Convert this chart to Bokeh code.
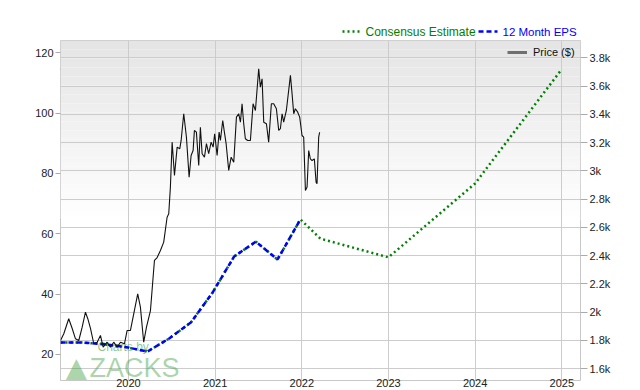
from bokeh.plotting import figure
from bokeh.layouts import column
from bokeh.models import (Range1d, LinearAxis, FixedTicker, Grid, Legend, LegendItem,
                          PolyAnnotation, Label)
from bokeh.embed import file_html
from bokeh.resources import INLINE
import numpy as np

# ---------------- data ----------------
price_t = [2019.216, 2019.254, 2019.311, 2019.351, 2019.389, 2019.427, 2019.466, 2019.504, 2019.531, 2019.562,
           2019.600, 2019.639, 2019.677, 2019.708, 2019.754, 2019.792, 2019.830, 2019.870, 2019.908, 2019.954,
           2019.985, 2020.023, 2020.061, 2020.107, 2020.138, 2020.176, 2020.208, 2020.254, 2020.277, 2020.300,
           2020.331, 2020.369, 2020.407, 2020.446, 2020.465, 2020.484, 2020.504, 2020.531, 2020.562, 2020.592,
           2020.608, 2020.638, 2020.669, 2020.700, 2020.723, 2020.746, 2020.761, 2020.784, 2020.811, 2020.830,
           2020.850, 2020.877, 2020.900, 2020.926, 2020.954, 2020.977, 2020.995, 2021.023, 2021.046, 2021.061,
           2021.088, 2021.107, 2021.127, 2021.157, 2021.185, 2021.215, 2021.246, 2021.272, 2021.292, 2021.311,
           2021.330, 2021.349, 2021.376, 2021.407, 2021.438, 2021.465, 2021.503, 2021.522, 2021.542, 2021.561,
           2021.592, 2021.618, 2021.649, 2021.676, 2021.707, 2021.734, 2021.753, 2021.773, 2021.791, 2021.822,
           2021.842, 2021.869, 2021.888, 2021.907, 2021.926, 2021.953, 2021.976, 2022.003, 2022.022, 2022.042,
           2022.061, 2022.080, 2022.099, 2022.119, 2022.145, 2022.165, 2022.176, 2022.195, 2022.206]
price_v = [1800, 1848, 1954, 1885, 1812, 1800, 1894, 2000, 1954, 1885,
           1777, 1788, 1836, 1753, 1788, 1753, 1788, 1753, 1788, 1777,
           1871, 1871, 1989, 2130, 2036, 1788, 1894, 2012, 2189, 2366,
           2387, 2437, 2496, 2672, 2696, 2885, 3203, 2967, 3168, 3156,
           3215, 3404, 3238, 2955, 3109, 3144, 3286, 3274, 3038, 3309,
           3121, 3097, 3192, 3121, 3203, 3168, 3262, 3109, 3274, 3215,
           3356, 3274, 3192, 3003, 3097, 3061, 3380, 3404, 3344, 3475,
           3333, 3227, 3215, 3215, 3475, 3427, 3722, 3592, 3651, 3344,
           3333, 3203, 3475, 3475, 3439, 3286, 3298, 3404, 3344, 3427,
           3533, 3675, 3545, 3404, 3439, 3415, 3380, 3250, 3238, 2861,
           2885, 3144, 3085, 3073, 3085, 2920, 2909, 3238, 3273]

eps_t = [2019.216, 2019.45, 2019.72, 2019.97, 2020.22, 2020.47, 2020.72, 2020.97, 2021.22, 2021.47, 2021.72, 2021.984]
eps_v = [24.0, 24.0, 23.4, 22.45, 21.0, 25.3, 30.6, 40.5, 52.5, 57.4, 51.5, 64.78]

est_t = eps_t + [2022.215, 2023.0, 2024.0, 2025.0]
est_v = eps_v + [58.4, 52.2, 76.7, 114.57]

year_ticks = [2020, 2021, 2022, 2023, 2024, 2025]
eps_ticks = [20, 40, 60, 80, 100, 120]
price_ticks = [1600, 1800, 2000, 2200, 2400, 2600, 2800, 3000, 3200, 3400, 3600, 3800]
price_labels = ["1.6k", "1.8k", "2k", "2.2k", "2.4k", "2.6k", "2.8k", "3k", "3.2k", "3.4k", "3.6k", "3.8k"]

legend_names = ["Consensus Estimate", "12 Month EPS"]

# ---------------- layout constants ----------------
W = 640
TOP_H = 40
H = 350
FL, FR, FT, FB = 60, 60, 0, 10
FRAME_W = W - FL - FR
FRAME_H = H - FT - FB
FONT = "Liberation Sans"
GREEN = "#008000"
BLUE = "#0000ff"

# ---------------- top strip with the outside legend ----------------
# (its frame is aligned with the main chart frame, so map canvas pixels FL..W-FR)
top = figure(width=W, height=TOP_H, x_range=Range1d(FL, W - FR), y_range=Range1d(TOP_H, 0),
             output_backend="svg", toolbar_location=None, title=None,
             x_axis_location=None, y_axis_location=None, min_border=0,
             min_border_left=FL, min_border_right=FR)
top.grid.visible = False
top.outline_line_color = None
top.background_fill_color = "white"
top.border_fill_color = "white"
for (x0, x1), color, dash, text, size in [((342, 360), GREEN, "2 3", legend_names[0], "12px"),
                                          ((478, 497), BLUE, "5 3", legend_names[1], "11.5px")]:
    top.line([x0, x1], [31, 31], line_color=color, line_width=2.5, line_dash=dash)
    top.add_layout(Label(x=x1 + 5, y=31, x_units="canvas", y_units="data", text=text,
                         text_baseline="middle", text_align="left", text_color=color,
                         text_font=FONT, text_font_size=size))

# ---------------- main chart ----------------
xr = Range1d(2019.216, 2025.216)
yr = Range1d(11.38, 124.08)
pr = Range1d(1517, 3922)

p = figure(width=W, height=H, x_range=xr, y_range=yr, output_backend="svg",
           toolbar_location=None, title=None, min_border_left=FL, min_border_right=FR,
           min_border_top=FT, min_border_bottom=FB)
p.extra_y_ranges = {"price": pr}
p.background_fill_color = "white"
p.border_fill_color = "white"
p.outline_line_color = "#c8c8c8"


def px2u(px, rng, size=FRAME_H):
    return px * (rng.end - rng.start) / size


# gradient background (top gray fading to white)
n = 40
fade_px = 180
edges = pr.end - (pr.end - pr.start) * np.linspace(0, fade_px / FRAME_H, n + 1)
shades = np.linspace(229, 255, n).astype(int)
cols = ["#%02x%02x%02x" % (s, s, s) for s in shades]
bands = p.quad(left=xr.start, right=xr.end, top=edges[:-1], bottom=edges[1:],
               fill_color=cols, line_color=None, y_range_name="price")
bands.level = "image"

# grids
p.xgrid.ticker = FixedTicker(ticks=year_ticks)
p.xgrid.grid_line_color = "#cccccc"
p.ygrid.visible = False
g = Grid(dimension=1, ticker=FixedTicker(ticks=price_ticks), y_range_name="price",
         grid_line_color="#cccccc")
p.add_layout(g)

# axes
def style_axis(ax, tick_out):
    ax.axis_line_color = None
    ax.major_tick_in = 0
    ax.major_tick_out = tick_out
    ax.minor_tick_line_color = None
    ax.major_tick_line_color = "#aaaaaa"
    ax.major_label_text_font = FONT
    ax.major_label_text_font_size = "11px"
    ax.major_label_text_color = "#222222"

p.yaxis.ticker = FixedTicker(ticks=eps_ticks)
style_axis(p.yaxis[0], 5)
p.yaxis.major_label_standoff = 2

p.xaxis.ticker = FixedTicker(ticks=year_ticks)
style_axis(p.xaxis[0], 0)
p.xaxis.major_label_standoff = -2

ra = LinearAxis(y_range_name="price", ticker=FixedTicker(ticks=price_ticks),
                major_label_overrides={t: l for t, l in zip(price_ticks, price_labels)})
style_axis(ra, 7)
ra.major_label_standoff = 2
p.add_layout(ra, "right")

# watermark
for txt, x, y, size, alpha in [("\u25b2", -2, -7, "36px", 0.45), ("ZACKS", 29, -2, "27px", 0.45),
                               ("Charts by", 37, 27, "12px", 0.6)]:
    lab = Label(x=x, y=y, x_units="screen", y_units="screen", text=txt, text_font=FONT,
                text_font_size=size, text_color="#3f9f3f", text_alpha=alpha)
    lab.level = "underlay"
    p.add_layout(lab)

# lines
est = p.line(est_t, est_v, line_color=GREEN, line_width=2.5, line_dash="2 3")
eps = p.line(eps_t, eps_v, line_color=BLUE, line_width=2.5, line_dash="5 3")
price = p.line(price_t, price_v, line_color="#111111", line_width=1.1, y_range_name="price")
price_key = p.line(price_t, price_v, line_color="#707070", line_width=3,
                   y_range_name="price", visible=False)

# legend inside the plot (Price)
lg = Legend(items=[LegendItem(label="Price ($)", renderers=[price_key])], location=(447, 322),
            label_text_font=FONT, label_text_font_size="11px", label_text_color="#111111",
            glyph_width=20, glyph_height=12, label_height=12, label_standoff=6,
            padding=0, margin=0, spacing=0, border_line_color=None, background_fill_alpha=0)
p.add_layout(lg)

# value flags
v = est_v[-1]
h = px2u(8.5, yr)
p.add_layout(PolyAnnotation(xs=[12, 53, 60, 53, 12], ys=[v + h, v + h, v, v - h, v - h],
                            xs_units="canvas", ys_units="data", fill_color=GREEN, fill_alpha=1,
                            line_color=None))
p.add_layout(Label(x=14, y=v, x_units="canvas", text=f"{v:.2f}", text_baseline="middle",
                   text_font=FONT, text_font_size="11px", text_color="white"))

v = eps_v[-1]
h = px2u(7, yr)
p.add_layout(PolyAnnotation(xs=[17, 54, 60, 54, 17], ys=[v + h, v + h, v, v - h, v - h],
                            xs_units="canvas", ys_units="data", fill_color=BLUE, fill_alpha=1,
                            line_color=None))
p.add_layout(Label(x=19, y=v, x_units="canvas", text=f"{v:.2f}", text_baseline="middle",
                   text_font=FONT, text_font_size="11px", text_color="white"))

v = price_v[-1]
h = px2u(6.5, pr)
p.add_layout(PolyAnnotation(xs=[580, 587, 636, 636, 587], ys=[v, v + h, v + h, v - h, v - h],
                            xs_units="canvas", ys_units="data", y_range_name="price",
                            fill_color="black", fill_alpha=1, line_color=None))
p.add_layout(Label(x=589, y=v, x_units="canvas", y_range_name="price", text=f"{v:.2f}",
                   text_baseline="middle", text_font=FONT, text_font_size="11px",
                   text_color="white"))

layout = column(top, p, spacing=0)
open("out.html", "w").write(file_html(layout, INLINE))
